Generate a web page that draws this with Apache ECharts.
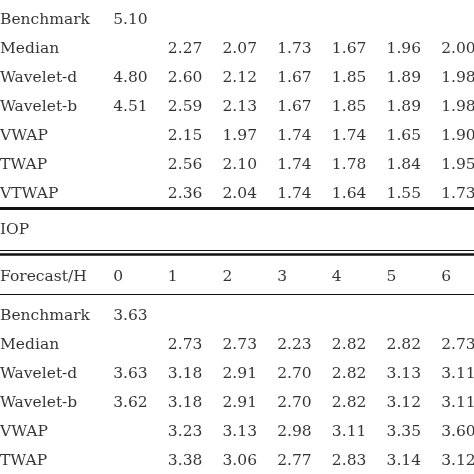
<!DOCTYPE html>
<html>
<head>
<meta charset="utf-8">
<script src="https://cdn.jsdelivr.net/npm/echarts@6/dist/echarts.min.js"></script>
<style>html,body{margin:0;padding:0;background:#fff}#main{width:474px;height:474px}</style>
</head>
<body>
<div id="main"></div>
<script>
// 表格数据
const methods = ['Benchmark', 'Median', 'Wavelet-d', 'Wavelet-b', 'VWAP', 'TWAP', 'VTWAP']
const horizons = ['0', '1', '2', '3', '4', '5', '6']
const topValues = [
  ['5.10', '', '', '', '', '', ''],
  ['', '2.27', '2.07', '1.73', '1.67', '1.96', '2.00'],
  ['4.80', '2.60', '2.12', '1.67', '1.85', '1.89', '1.98'],
  ['4.51', '2.59', '2.13', '1.67', '1.85', '1.89', '1.98'],
  ['', '2.15', '1.97', '1.74', '1.74', '1.65', '1.90'],
  ['', '2.56', '2.10', '1.74', '1.78', '1.84', '1.95'],
  ['', '2.36', '2.04', '1.74', '1.64', '1.55', '1.73'],
]
const iopValues = [
  ['3.63', '', '', '', '', '', ''],
  ['', '2.73', '2.73', '2.23', '2.82', '2.82', '2.73'],
  ['3.63', '3.18', '2.91', '2.70', '2.82', '3.13', '3.11'],
  ['3.62', '3.18', '2.91', '2.70', '2.82', '3.12', '3.11'],
  ['', '3.23', '3.13', '2.98', '3.11', '3.35', '3.60'],
  ['', '3.38', '3.06', '2.77', '2.83', '3.14', '3.12'],
]

// 行的纵向位置（像素单位的y轴）
const topRowY = [20, 49, 78, 107, 136, 165, 194]
const iopTitleY = 230
const headerY = 277
const iopRowY = [316, 345, 374, 403, 432, 461]
const labelCol = -2.07

const cells = []
methods.forEach((m, i) => {
  cells.push([labelCol, topRowY[i], m])
  topValues[i].forEach((v, c) => v && cells.push([c, topRowY[i], v]))
})
cells.push([labelCol, iopTitleY, 'IOP'])
cells.push([labelCol, headerY, 'Forecast/H'])
horizons.forEach((h, c) => cells.push([c, headerY, h]))
iopValues.forEach((row, i) => {
  cells.push([labelCol, iopRowY[i], methods[i]])
  row.forEach((v, c) => v && cells.push([c, iopRowY[i], v]))
})

const chart = echarts.init(document.getElementById('main'))
const rule = (y, w) => ({ yAxis: y, lineStyle: { width: w } })
chart.setOption({
  animation: false,
  grid: { left: 0, right: 0, top: 0, bottom: 0 },
  xAxis: { type: 'value', min: -2.07, max: 6.6, show: false },
  yAxis: { type: 'value', min: 0, max: 474, inverse: true, show: false },
  series: [{
    type: 'scatter',
    symbolSize: 0,
    data: cells,
    label: {
      show: true,
      position: 'inside',
      align: 'left',
      verticalAlign: 'middle',
      formatter: p => p.data[2],
      fontFamily: 'DejaVu Serif',
      fontSize: 15.5,
      color: '#000',
      textBorderWidth: 0,
    },
    markLine: {
      symbol: 'none',
      silent: true,
      label: { show: false },
      lineStyle: { color: '#111', type: 'solid' },
      data: [rule(208.5, 3), rule(250, 1.2), rule(254.5, 2.5), rule(294, 1.2)],
    },
  }],
})
</script>
</body>
</html>
